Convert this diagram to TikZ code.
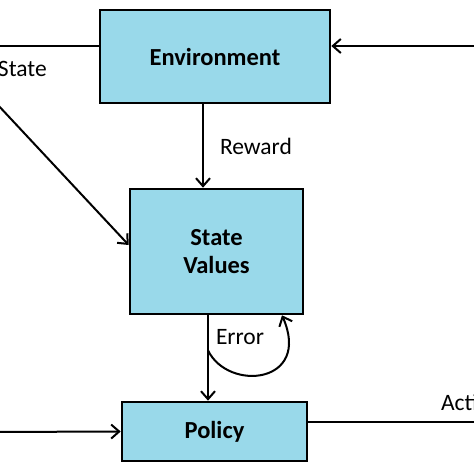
\documentclass[tikz,border=0pt]{standalone}
\usepackage{fontspec}
\setmainfont{Carlito}
\usetikzlibrary{arrows.meta}
\definecolor{boxblue}{RGB}{153,217,234}
\begin{document}
\begin{tikzpicture}[x=1pt, y=-1pt, line width=2pt,
    block/.style={draw, line width=2.6pt, fill=boxblue, align=center, inner sep=0pt,
      font=\fontsize{24.5}{28}\selectfont\bfseries},
    lbl/.style={inner sep=0pt, font=\fontsize{23.5}{26}\selectfont},
    flow/.style={-{Straight Barb[length=8pt, width=14pt, line width=2pt]}}]
      \useasboundingbox (0,0) rectangle (474,474);
      \node [block, minimum width=230pt, minimum height=93pt] (env) at (215,56.5) {Environment};
      \node [block, minimum width=173pt, minimum height=125pt] (sv) at (216.5,251.5) {State\\Values};
      \node [block, minimum width=185pt, minimum height=59pt] (pol) at (214.5,431.5) {Policy};
      \coordinate (stateL) at (-10,46);
      \coordinate (actR) at (484,46);
      \coordinate (diagS) at (-10,96.5);
      \coordinate (polL) at (-10,432);
      \coordinate (actE) at (484,422);
      \draw (stateL) -- (env.west |- stateL);
      \draw [flow] (actR) -- (env.east |- actR);
      \node [lbl, anchor=west] (statelbl) at (-3,69) {State};
      \draw [flow] (diagS) -- ([yshift=6.5pt]sv.west);
      \draw [flow] ([xshift=-12pt]env.south) -- ([xshift=-13.5pt]sv.north)
        node [lbl, pos=0.5, right=16pt] (rewardlbl) {Reward};
      \draw [flow] ([xshift=-8.5pt]sv.south) -- coordinate [pos=0.41] (errloop) ([xshift=-6.5pt]pol.north)
        node [lbl, pos=0.26, right=7pt] (errorlbl) {Error};
      \draw [flow] (errloop) .. controls (228,392) and (312,384) .. ([xshift=65.5pt]sv.south);
      \draw [flow] (polL) -- (pol.west);
      \draw ([yshift=9.5pt]pol.east) -- (actE);
      \node [lbl, anchor=west] (actlbl) at (440,402) {Action};
\end{tikzpicture}
\end{document}
